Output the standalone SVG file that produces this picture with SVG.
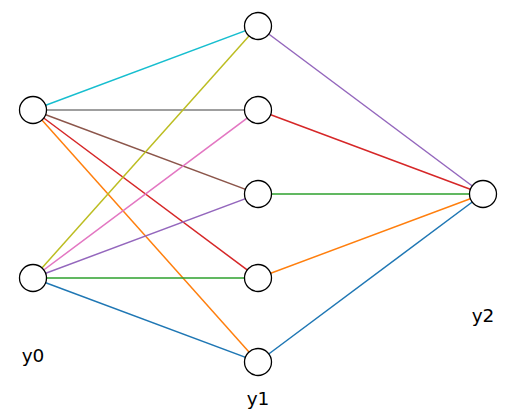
<svg xmlns="http://www.w3.org/2000/svg" width="515" height="419" viewBox="0 0 515 419">
<style>
.e{fill:none;stroke-width:1.5}
.n{fill:#fff;stroke:#000;stroke-width:1.3}
.t{font-family:"DejaVu Sans",sans-serif;font-size:18.5px;fill:#000;text-anchor:middle}
</style>
<rect width="515" height="419" fill="#fff"/>
<g id="connectors">
<line class="e" x1="33" y1="110" x2="258" y2="26" stroke="#17becf"/>
<line class="e" x1="33" y1="110" x2="258" y2="110" stroke="#7f7f7f"/>
<line class="e" x1="33" y1="110" x2="258" y2="194" stroke="#8c564b"/>
<line class="e" x1="33" y1="110" x2="258" y2="278" stroke="#d62728"/>
<line class="e" x1="33" y1="110" x2="258" y2="362" stroke="#ff7f0e"/>
<line class="e" x1="33" y1="278" x2="258" y2="26" stroke="#bcbd22"/>
<line class="e" x1="33" y1="278" x2="258" y2="110" stroke="#e377c2"/>
<line class="e" x1="33" y1="278" x2="258" y2="194" stroke="#9467bd"/>
<line class="e" x1="33" y1="278" x2="258" y2="278" stroke="#2ca02c"/>
<line class="e" x1="33" y1="278" x2="258" y2="362" stroke="#1f77b4"/>
<line class="e" x1="258" y1="26" x2="483" y2="194" stroke="#9467bd"/>
<line class="e" x1="258" y1="110" x2="483" y2="194" stroke="#d62728"/>
<line class="e" x1="258" y1="194" x2="483" y2="194" stroke="#2ca02c"/>
<line class="e" x1="258" y1="278" x2="483" y2="194" stroke="#ff7f0e"/>
<line class="e" x1="258" y1="362" x2="483" y2="194" stroke="#1f77b4"/>
</g>
<g id="n00"><circle class="n" cx="33" cy="110" r="13.5"/></g>
<g id="n01"><circle class="n" cx="33" cy="278" r="13.5"/><text class="t" x="33" y="361.5">y0</text></g>
<g id="n10"><circle class="n" cx="258" cy="26" r="13.5"/></g>
<g id="n11"><circle class="n" cx="258" cy="110" r="13.5"/></g>
<g id="n12"><circle class="n" cx="258" cy="194" r="13.5"/></g>
<g id="n13"><circle class="n" cx="258" cy="278" r="13.5"/></g>
<g id="n14"><circle class="n" cx="258" cy="362" r="13.5"/><text class="t" x="258" y="404.5">y1</text></g>
<g id="n20"><circle class="n" cx="483" cy="194" r="13.5"/><text class="t" x="483" y="321.5">y2</text></g>
</svg>
